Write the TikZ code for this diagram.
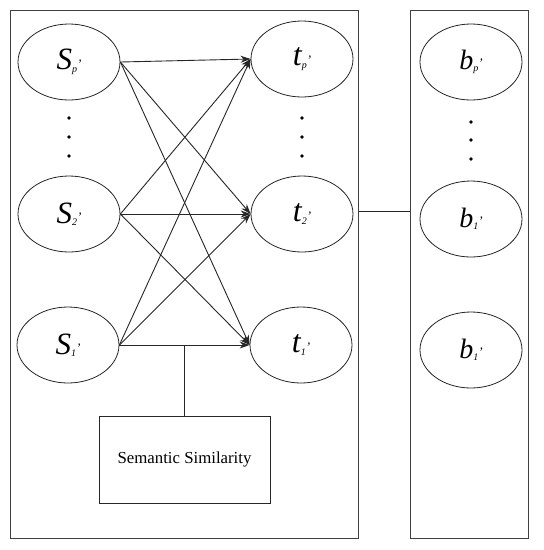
\documentclass[tikz,border=0pt]{standalone}
\usepackage{fontspec}
\setmainfont{Liberation Serif}
\usetikzlibrary{arrows.meta,shapes.geometric}
\newcommand{\nlab}[3]{{\fontsize{#3}{#3}\selectfont\itshape #1}\raisebox{-2.5pt}{\fontsize{10}{10}\selectfont\itshape #2}\raisebox{1.5pt}{\fontsize{13}{13}\selectfont\itshape '}}
\begin{document}
\begin{tikzpicture}[x=1pt,y=-1pt,
  frame/.style={draw=black!75,line width=1pt},
  ell/.style={draw=black!85,line width=0.8pt,ellipse,minimum width=102pt,minimum height=76pt,inner sep=0pt},
  link/.style={draw=black!85,line width=0.9pt,-{Stealth[length=10pt,width=7pt]}},
  plain/.style={draw=black!85,line width=0.9pt},
  dotn/.style={circle,fill=black,inner sep=0pt,minimum size=3.6pt}]
\useasboundingbox (0,0) rectangle (544,550);
% frames
\node[frame,minimum width=348pt,minimum height=528pt,inner sep=0pt] (L) at (184,274) {};
\node[frame,minimum width=118pt,minimum height=528pt,inner sep=0pt] (R) at (469,274) {};
% ellipses
\node[ell] (sp) at (69,62) {\nlab{S}{p}{31}};
\node[ell] (s2) at (69,214) {\nlab{S}{2}{31}};
\node[ell] (s1) at (68,345) {\nlab{S}{1}{31}};
\node[ell] (tp) at (302,59) {\nlab{t}{p}{32}};
\node[ell] (t2) at (302,214) {\nlab{t}{2}{32}};
\node[ell] (t1) at (301,345) {\nlab{t}{1}{32}};
\node[ell] (bp) at (471,62) {\nlab{b}{p}{28}};
\node[ell] (b2) at (471,219) {\nlab{b}{1}{28}};
\node[ell] (b1) at (471,350) {\nlab{b}{1}{28}};
% dots
\foreach \y [count=\i] in {118,137,156} {
  \node[dotn] (ds\i) at (69,\y) {};
  \node[dotn] (dt\i) at (302,\y) {};
}
\foreach \y [count=\i] in {122,140,159} {
  \node[dotn] (db\i) at (471,\y) {};
}
% arrows
\foreach \a in {sp,s2,s1} {
  \foreach \b in {tp,t2,t1} {
    \draw[link] (\a.east) -- (\b.west);
  }
}
% semantic similarity
\node[draw=black!85,line width=0.9pt,minimum width=171pt,minimum height=87pt,inner sep=0pt,font=\fontsize{16.8}{17}\selectfont] (sem) at (184.5,459.5) {Semantic Similarity};
\coordinate (tap) at (sem.north |- s1.east);
\draw[plain] (sem.north) -- (tap);
% connector between frames
\coordinate (lc) at (L.east |- 0,211);
\coordinate (rc) at (R.west |- 0,211);
\draw[plain] (lc) -- (rc);
\end{tikzpicture}
\end{document}
